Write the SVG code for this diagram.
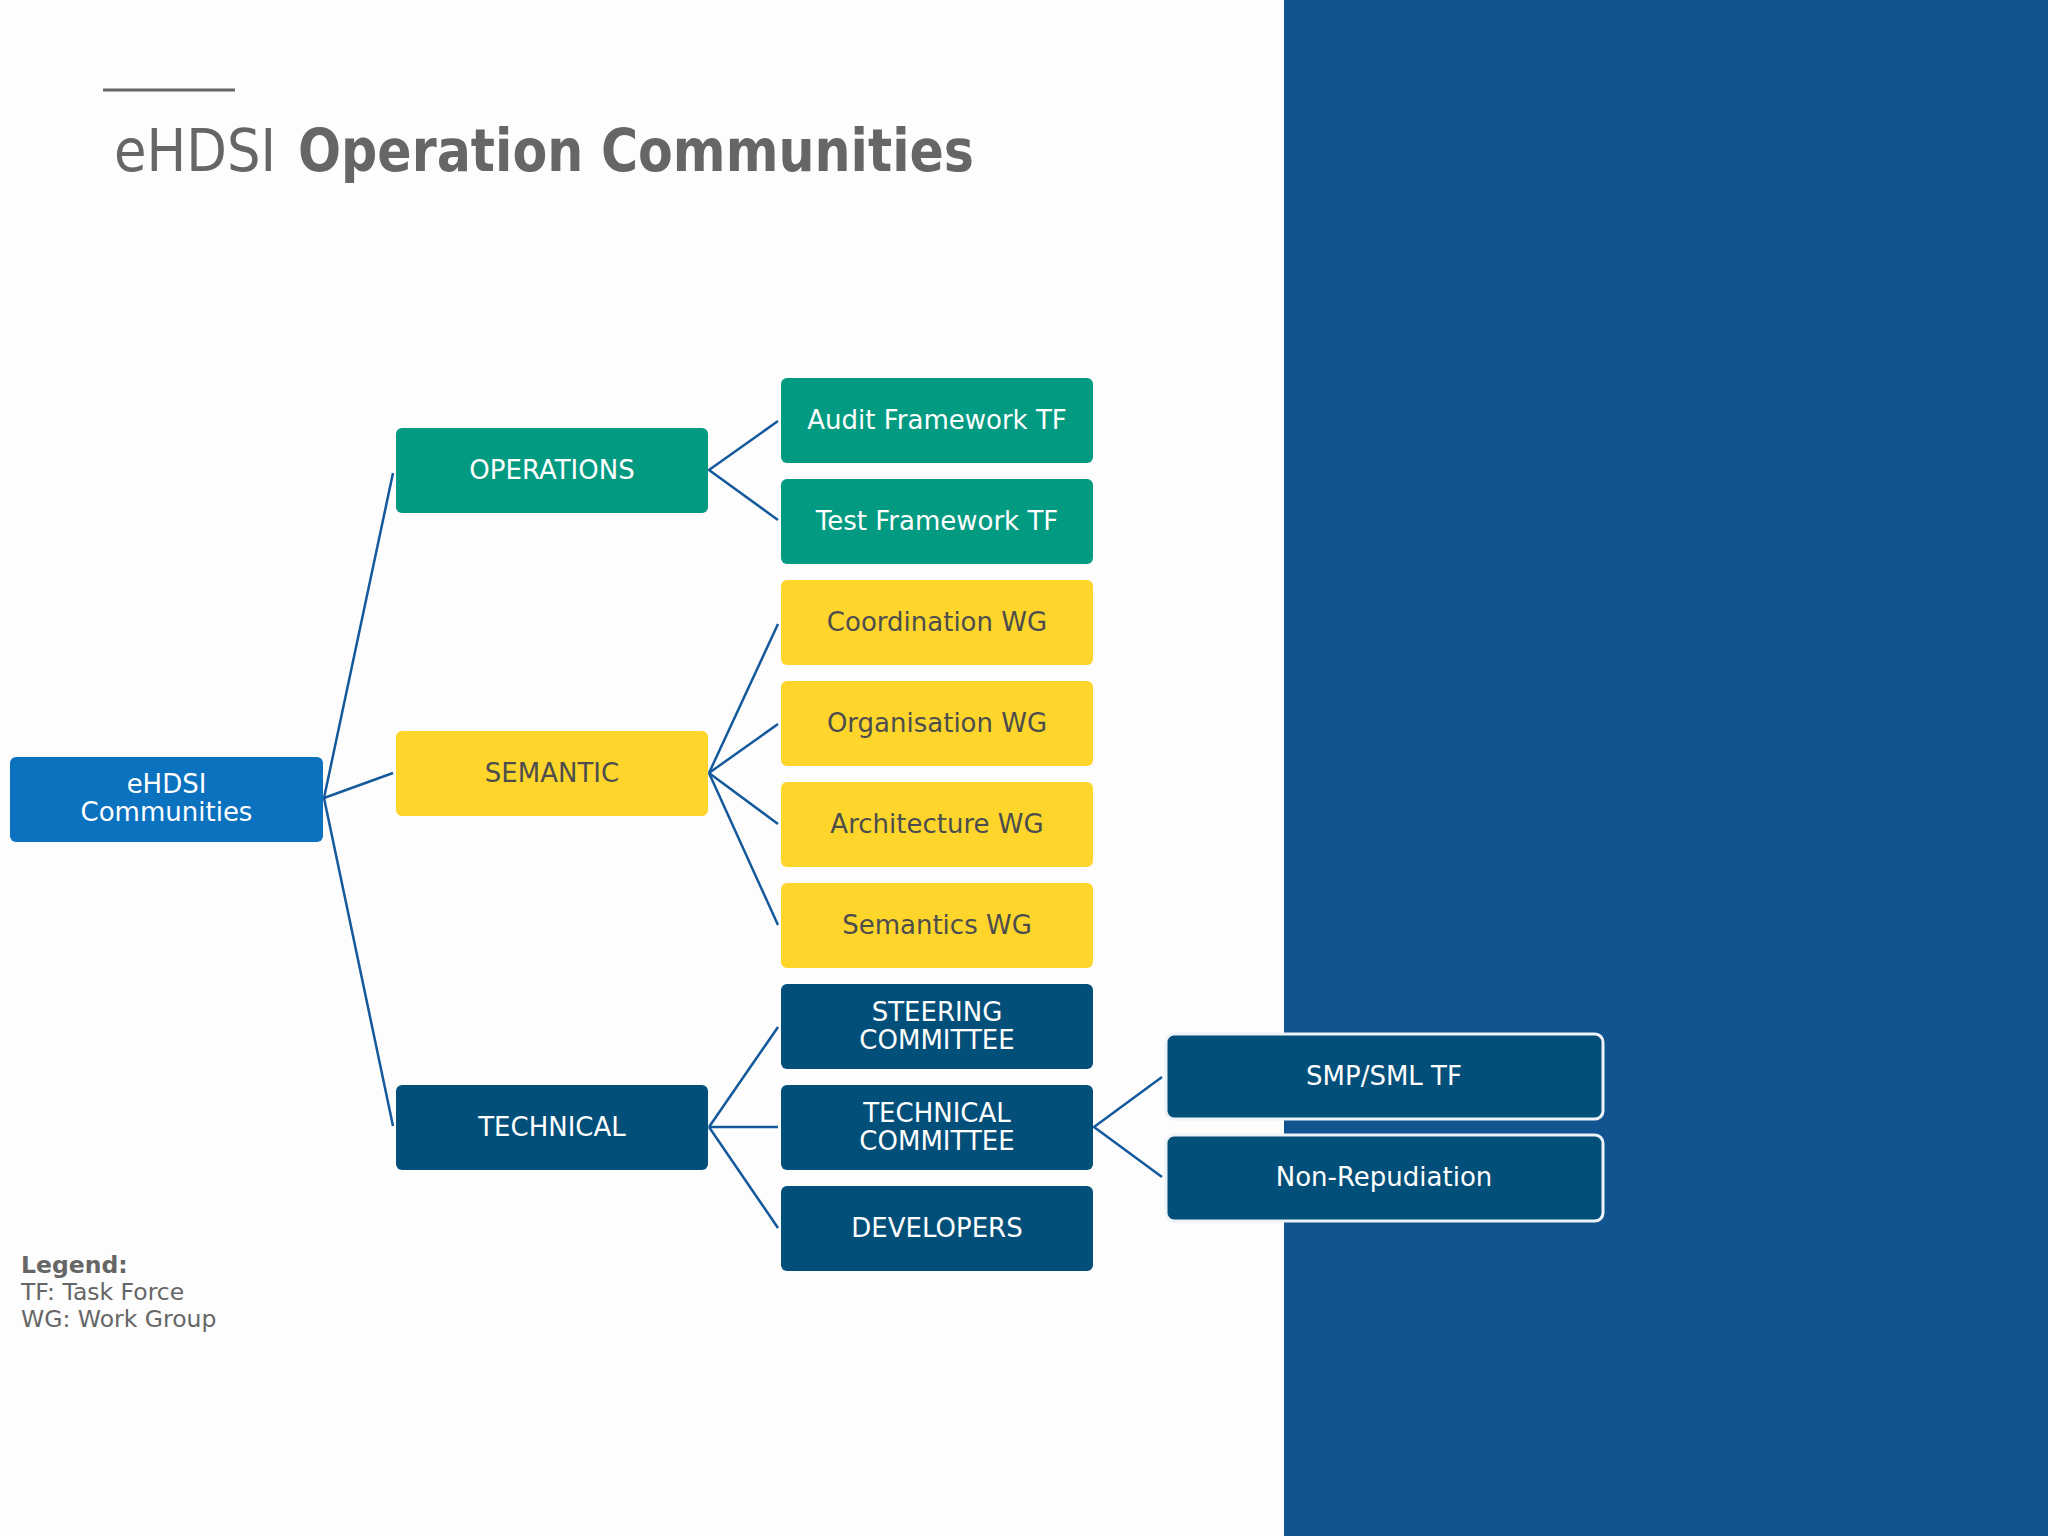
<svg xmlns="http://www.w3.org/2000/svg" width="2048" height="1536" viewBox="0 0 2048 1536">
<style>
.t{font-family:"DejaVu Sans","Verdana",sans-serif;font-size:26px;text-anchor:middle;}
.w{fill:#ffffff;}
.d{fill:#4d4d4d;}
.teal{fill:#039a82;}
.yel{fill:#fed62b;}
.dark{fill:#024f7a;}
.mid{fill:#0b72bf;}
.out{stroke:#eef3f8;stroke-width:3;}
.c{stroke:#14599b;stroke-width:2.5;fill:none;}
.leg{font-family:"DejaVu Sans","Verdana",sans-serif;font-size:23.5px;fill:#666666;}
</style>
<rect x="0" y="0" width="2048" height="1536" fill="#fdfdfd"/>
<rect x="1284" y="0" width="764" height="1536" fill="#11548f"/>
<line x1="103" y1="90" x2="235" y2="90" stroke="#666666" stroke-width="3"/>
<text x="114" y="171" font-family="DejaVu Sans, Verdana, sans-serif" font-size="58" fill="#666666" textLength="162" lengthAdjust="spacingAndGlyphs">eHDSI</text>
<text x="298" y="171" font-family="DejaVu Sans, Verdana, sans-serif" font-size="58" font-weight="bold" fill="#666666" textLength="676" lengthAdjust="spacingAndGlyphs">Operation Communities</text>
<g id="connectors">
<polyline class="c" points="393,473 324,798 393,773"/>
<line class="c" x1="324" y1="798" x2="393" y2="1126"/>
<polyline class="c" points="778,421 709,470 778,520"/>
<line class="c" x1="709" y1="773" x2="778" y2="624"/>
<line class="c" x1="709" y1="773" x2="778" y2="724"/>
<line class="c" x1="709" y1="773" x2="778" y2="824"/>
<line class="c" x1="709" y1="773" x2="778" y2="925"/>
<line class="c" x1="709" y1="1127" x2="778" y2="1027"/>
<line class="c" x1="709" y1="1127" x2="778" y2="1127"/>
<line class="c" x1="709" y1="1127" x2="778" y2="1228"/>
<polyline class="c" points="1162,1077 1094,1127 1162,1177"/>
</g>
<g id="root">
<rect class="mid" x="10" y="757" width="313" height="85" rx="6"/>
<text class="t w" x="166.5" y="793">eHDSI</text>
<text class="t w" x="166.5" y="821">Communities</text>
</g>
<g id="operations">
<rect class="teal" x="396" y="428" width="312" height="85" rx="6"/>
<text class="t w" x="552" y="479">OPERATIONS</text>
</g>
<g id="semantic">
<rect class="yel" x="396" y="731" width="312" height="85" rx="6"/>
<text class="t d" x="552" y="782">SEMANTIC</text>
</g>
<g id="technical">
<rect class="dark" x="396" y="1085" width="312" height="85" rx="6"/>
<text class="t w" x="552" y="1136">TECHNICAL</text>
</g>
<g id="audit">
<rect class="teal" x="781" y="378" width="312" height="85" rx="6"/>
<text class="t w" x="937" y="429">Audit Framework TF</text>
</g>
<g id="test">
<rect class="teal" x="781" y="479" width="312" height="85" rx="6"/>
<text class="t w" x="937" y="530">Test Framework TF</text>
</g>
<g id="coordination">
<rect class="yel" x="781" y="580" width="312" height="85" rx="6"/>
<text class="t d" x="937" y="631">Coordination WG</text>
</g>
<g id="organisation">
<rect class="yel" x="781" y="681" width="312" height="85" rx="6"/>
<text class="t d" x="937" y="732">Organisation WG</text>
</g>
<g id="architecture">
<rect class="yel" x="781" y="782" width="312" height="85" rx="6"/>
<text class="t d" x="937" y="833">Architecture WG</text>
</g>
<g id="semantics">
<rect class="yel" x="781" y="883" width="312" height="85" rx="6"/>
<text class="t d" x="937" y="934">Semantics WG</text>
</g>
<g id="steering">
<rect class="dark" x="781" y="984" width="312" height="85" rx="6"/>
<text class="t w" x="937" y="1021">STEERING</text>
<text class="t w" x="937" y="1049">COMMITTEE</text>
</g>
<g id="techcomm">
<rect class="dark" x="781" y="1085" width="312" height="85" rx="6"/>
<text class="t w" x="937" y="1122">TECHNICAL</text>
<text class="t w" x="937" y="1150">COMMITTEE</text>
</g>
<g id="developers">
<rect class="dark" x="781" y="1186" width="312" height="85" rx="6"/>
<text class="t w" x="937" y="1237">DEVELOPERS</text>
</g>
<g id="smp">
<rect class="dark out" x="1166" y="1034" width="437" height="85" rx="8"/>
<text class="t w" x="1384" y="1085">SMP/SML TF</text>
</g>
<g id="nonrep">
<rect class="dark out" x="1166" y="1135" width="437" height="86" rx="8"/>
<text class="t w" x="1384" y="1186">Non-Repudiation</text>
</g>
<g id="legend">
<text class="leg" x="21" y="1273" font-weight="bold">Legend:</text>
<text class="leg" x="21" y="1300">TF: Task Force</text>
<text class="leg" x="21" y="1327">WG: Work Group</text>
</g>
</svg>
